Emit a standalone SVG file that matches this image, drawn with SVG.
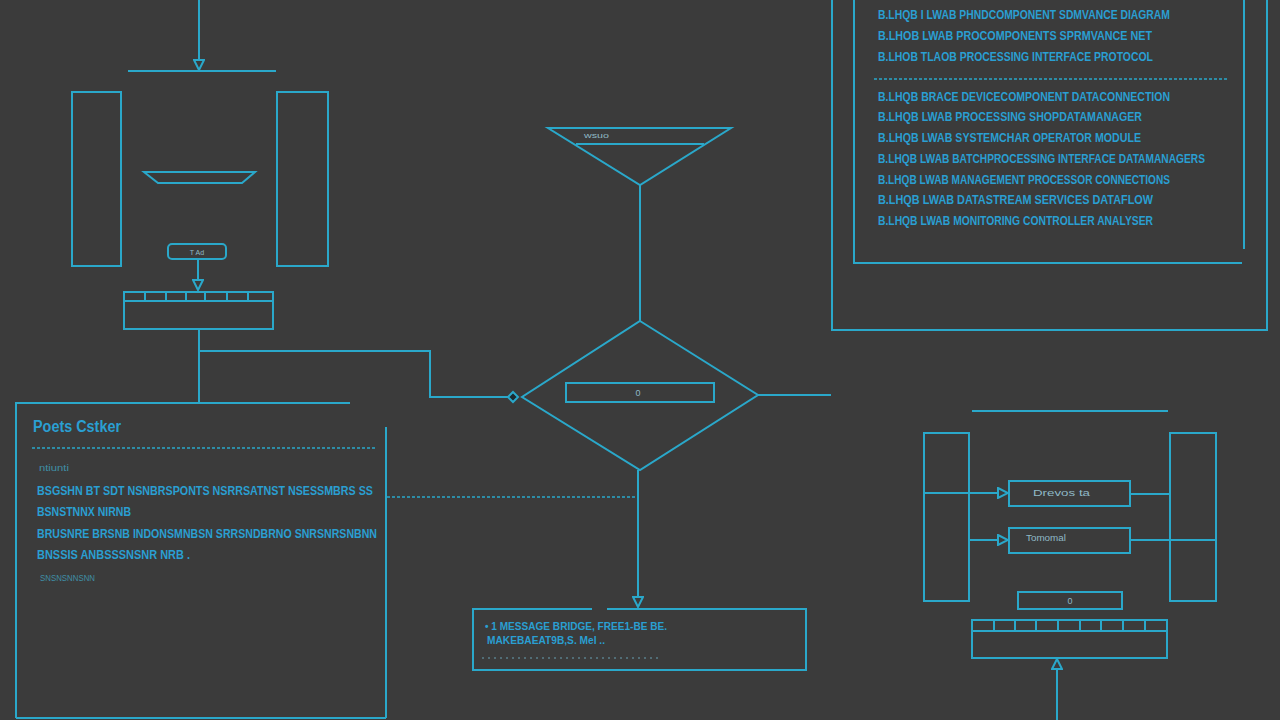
<svg xmlns="http://www.w3.org/2000/svg" width="1280" height="720" viewBox="0 0 1280 720">
<defs>
<style>
.s{fill:none;stroke:#2aa8ca;stroke-width:2}
.t{font-family:"Liberation Sans",Arial,sans-serif;fill:#2a9fd2;font-weight:bold}
.d{font-family:"Liberation Sans",Arial,sans-serif;fill:#3f8fa6}
.l{font-family:"Liberation Sans",Arial,sans-serif;fill:#8fb9c6}
.dash{fill:none;stroke:#2aa8ca;stroke-width:1.5;stroke-dasharray:3 2}
</style>
<marker id="tri" viewBox="0 0 12 12" refX="11" refY="6" markerWidth="12" markerHeight="12" orient="auto" markerUnits="userSpaceOnUse">
<path d="M1,1 L11,6 L1,11 Z" fill="#3b3b3b" stroke="#2aa8ca" stroke-width="2"/>
</marker>
</defs>
<rect width="1280" height="720" fill="#3b3b3b"/>

<g id="connectors">
<path class="s" d="M199,0 V70" marker-end="url(#tri)"/>
<path class="s" d="M198,259 V290" marker-end="url(#tri)"/>
<path class="s" d="M199,329 V402"/>
<path class="s" d="M199,351 H430 V397 H513"/>
<path class="s" d="M640,185 V321"/>
<path class="s" d="M638,470 V607" marker-end="url(#tri)"/>
<path class="s" d="M758,395 H831"/>
<path class="dash" d="M387,497 H638"/>
<path class="s" d="M924,493 H1008" marker-end="url(#tri)"/>
<path class="s" d="M1130,494 H1170"/>
<path class="s" d="M969,540 H1008" marker-end="url(#tri)"/>
<path class="s" d="M1130,540 H1216"/>
<path class="s" d="M1057,720 V659" marker-end="url(#tri)"/>
</g>

<g id="top-bar"><path class="s" d="M128,71 H276"/></g>
<g id="left-pillar"><rect class="s" x="72" y="92" width="49" height="174"/></g>
<g id="right-pillar"><rect class="s" x="277" y="92" width="51" height="174"/></g>
<g id="trapezoid"><path class="s" d="M144,172 H255 L242,183 H158 Z"/></g>
<g id="pill"><rect class="s" x="168" y="244" width="58" height="15" rx="4"/><text class="l" x="197" y="255" font-size="7" text-anchor="middle">T Ad</text></g>
<g id="table-left">
<rect class="s" x="124" y="292" width="149" height="37"/>
<path class="s" d="M124,301 H273 M145,292 V301 M166,292 V301 M186,292 V301 M205,292 V301 M227,292 V301 M248,292 V301"/>
</g>

<g id="left-box">
<path class="s" d="M16,718 V403 H350 M386,427 V718 M16,718 H386"/>
<text class="t" x="33" y="432" font-size="16" textLength="88" lengthAdjust="spacingAndGlyphs">Poets Cstker</text>
<path class="dash" d="M32,448 H375"/>
<text class="d" x="39" y="471" font-size="9" textLength="30" lengthAdjust="spacingAndGlyphs">ntiunti</text>
<text class="t" x="37" y="495" font-size="12" textLength="336" lengthAdjust="spacingAndGlyphs">BSGSHN BT  SDT NSNBRSPONTS NSRRSATNST NSESSMBRS SS</text>
<text class="t" x="37" y="516" font-size="12" textLength="94" lengthAdjust="spacingAndGlyphs">BSNSTNNX NIRNB</text>
<text class="t" x="37" y="538" font-size="12" textLength="340" lengthAdjust="spacingAndGlyphs">BRUSNRE BRSNB  INDONSMNBSN SRRSNDBRNO SNRSNRSNBNN</text>
<text class="t" x="37" y="559" font-size="12" textLength="153" lengthAdjust="spacingAndGlyphs">BNSSIS  ANBSSSNSNR NRB .</text>
<text class="d" x="40" y="581" font-size="9" textLength="55" lengthAdjust="spacingAndGlyphs">SNSNSNNSNN</text>
</g>

<g id="funnel">
<path class="s" d="M548,128 H731 L640,185 Z"/>
<path class="s" d="M576,144 H704"/>
<text class="l" x="584" y="138" font-size="7" textLength="25" lengthAdjust="spacingAndGlyphs">wsuo</text>
</g>

<g id="decision">
<path class="s" d="M640,321 L758,395 L640,470 L522,397 Z"/>
<rect class="s" x="566" y="383" width="148" height="19"/>
<text class="l" x="638" y="396" font-size="9" text-anchor="middle">0</text>
<path d="M513,392 L518,397 L513,402 L508,397 Z" fill="#1c2a30" stroke="#2aa8ca" stroke-width="2"/>
</g>

<g id="bottom-box">
<path class="s" d="M592,609 H473 V670 H806 V609 H607"/>
<text class="t" x="485" y="630" font-size="11" textLength="182" lengthAdjust="spacingAndGlyphs">• 1 MESSAGE BRIDGE, FREE1-BE  BE.</text>
<text class="t" x="487" y="644" font-size="11" textLength="118" lengthAdjust="spacingAndGlyphs">MAKEBAEAT9B,S. Mel ..</text>
<path d="M482,658 H660" fill="none" stroke="#5a7f8a" stroke-width="1.5" stroke-dasharray="2 4"/>
</g>

<g id="top-right-box">
<path class="s" d="M832,0 V330 H1267 V0"/>
<path class="s" d="M854,0 V263 H1242 M1244,0 V249"/>
<text class="t" x="878" y="19" font-size="12" textLength="292" lengthAdjust="spacingAndGlyphs">B.LHQB I LWAB PHNDCOMPONENT SDMVANCE DIAGRAM</text>
<text class="t" x="878" y="40" font-size="12" textLength="274" lengthAdjust="spacingAndGlyphs">B.LHOB LWAB PROCOMPONENTS  SPRMVANCE NET</text>
<text class="t" x="878" y="61" font-size="12" textLength="275" lengthAdjust="spacingAndGlyphs">B.LHOB TLAOB PROCESSING  INTERFACE PROTOCOL</text>
<path class="dash" d="M874,79 H1228"/>
<text class="t" x="878" y="101" font-size="12" textLength="292" lengthAdjust="spacingAndGlyphs">B.LHQB BRACE DEVICECOMPONENT DATACONNECTION</text>
<text class="t" x="878" y="121" font-size="12" textLength="264" lengthAdjust="spacingAndGlyphs">B.LHQB LWAB PROCESSING  SHOPDATAMANAGER</text>
<text class="t" x="878" y="142" font-size="12" textLength="263" lengthAdjust="spacingAndGlyphs">B.LHQB LWAB SYSTEMCHAR  OPERATOR MODULE</text>
<text class="t" x="878" y="163" font-size="12" textLength="327" lengthAdjust="spacingAndGlyphs">B.LHQB LWAB BATCHPROCESSING INTERFACE DATAMANAGERS</text>
<text class="t" x="878" y="184" font-size="12" textLength="292" lengthAdjust="spacingAndGlyphs">B.LHQB LWAB MANAGEMENT PROCESSOR CONNECTIONS</text>
<text class="t" x="878" y="204" font-size="12" textLength="275" lengthAdjust="spacingAndGlyphs">B.LHQB LWAB DATASTREAM SERVICES DATAFLOW</text>
<text class="t" x="878" y="225" font-size="12" textLength="275" lengthAdjust="spacingAndGlyphs">B.LHQB LWAB MONITORING CONTROLLER ANALYSER</text>
</g>

<g id="right-top-bar"><path class="s" d="M972,411 H1168"/></g>
<g id="right-left-pillar"><rect class="s" x="924" y="433" width="45" height="168"/></g>
<g id="right-right-pillar"><rect class="s" x="1170" y="433" width="46" height="168"/></g>
<g id="box-drevos"><rect class="s" x="1009" y="481" width="121" height="25"/><text class="l" x="1033" y="496" font-size="9" textLength="57" lengthAdjust="spacingAndGlyphs">Drevos ta</text></g>
<g id="box-tomomal"><rect class="s" x="1009" y="528" width="121" height="25"/><text class="l" x="1026" y="541" font-size="9" textLength="40" lengthAdjust="spacingAndGlyphs">Tomomal</text></g>
<g id="box-zero"><rect class="s" x="1018" y="592" width="104" height="17"/><text class="l" x="1070" y="604" font-size="9" text-anchor="middle">0</text></g>
<g id="table-right">
<rect class="s" x="972" y="620" width="195" height="38"/>
<path class="s" d="M972,631 H1167 M994,620 V631 M1015,620 V631 M1036,620 V631 M1058,620 V631 M1080,620 V631 M1101,620 V631 M1123,620 V631 M1145,620 V631"/>
</g>
</svg>
